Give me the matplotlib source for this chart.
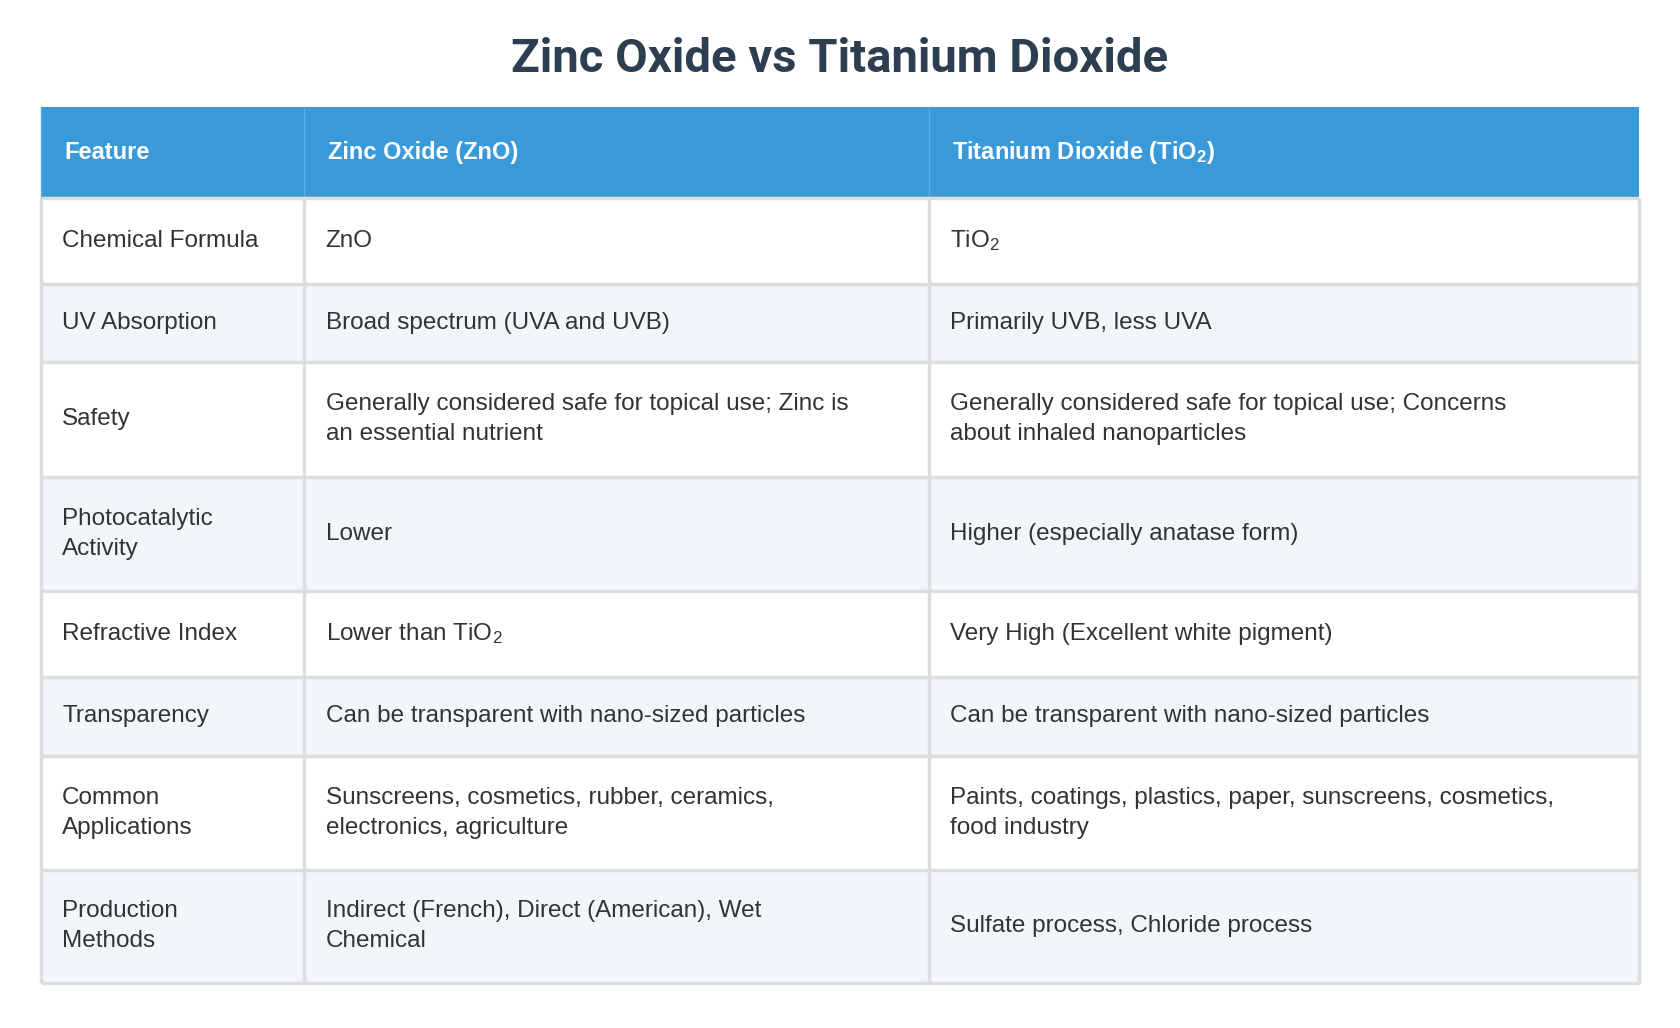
import matplotlib
matplotlib.use('Agg')
import matplotlib.pyplot as plt
from matplotlib.patches import Rectangle

plt.rcParams['font.family'] = ['Liberation Sans', 'DejaVu Sans']
plt.rcParams['mathtext.default'] = 'regular'
plt.rcParams['mathtext.fontset'] = 'custom'
plt.rcParams['mathtext.rm'] = 'Liberation Sans'

title = "Zinc Oxide vs Titanium Dioxide"
headers = ["Feature", "Zinc Oxide (ZnO)", "Titanium Dioxide (TiO$_2$)"]
features = ["Chemical Formula", "UV Absorption", "Safety", "Photocatalytic\nActivity",
            "Refractive Index", "Transparency", "Common\nApplications", "Production\nMethods"]
zno = ["ZnO", "Broad spectrum (UVA and UVB)",
       "Generally considered safe for topical use; Zinc is\nan essential nutrient",
       "Lower", "Lower than TiO$_2$", "Can be transparent with nano-sized particles",
       "Sunscreens, cosmetics, rubber, ceramics,\nelectronics, agriculture",
       "Indirect (French), Direct (American), Wet\nChemical"]
tio2 = ["TiO$_2$", "Primarily UVB, less UVA",
        "Generally considered safe for topical use; Concerns\nabout inhaled nanoparticles",
        "Higher (especially anatase form)", "Very High (Excellent white pigment)",
        "Can be transparent with nano-sized particles",
        "Paints, coatings, plastics, paper, sunscreens, cosmetics,\nfood industry",
        "Sulfate process, Chloride process"]

# layout in reference pixel units (1568 x 960 canvas)
W, H = 1568, 960
col_x = [38, 284, 867, 1530]
row_y = [100, 185, 265, 338, 445, 552, 632, 706, 812, 918]

fig = plt.figure(figsize=(16.8, 10.28), dpi=100)
ax = fig.add_axes([0, 0, 1, 1])
ax.set_xlim(0, W)
ax.set_ylim(H, 0)
ax.axis('off')

ax.text(W / 2, 55, title, ha='center', va='center', fontsize=34,
        fontweight='bold', color='#2c3e50', family=['Roboto', 'DejaVu Sans'])

# header
ax.add_patch(Rectangle((col_x[0], row_y[0]), col_x[-1] - col_x[0], row_y[1] - row_y[0],
                       facecolor='#3a9ad9', edgecolor='none'))
for j, h in enumerate(headers):
    ax.plot([col_x[j], col_x[j]], [row_y[0], row_y[1]], color='#5aaee3', lw=1)
    ax.text(col_x[j] + 22, (row_y[0] + row_y[1]) / 2, h, ha='left', va='center',
            fontsize=17, fontweight='bold', color='white')

# body
for i in range(len(features)):
    y0, y1 = row_y[i + 1], row_y[i + 2]
    bg = 'white' if i % 2 == 0 else '#f2f5fa'
    ax.add_patch(Rectangle((col_x[0], y0), col_x[-1] - col_x[0], y1 - y0,
                           facecolor=bg, edgecolor='none'))
    for j, txt in enumerate([features[i], zno[i], tio2[i]]):
        ax.text(col_x[j] + 20, (y0 + y1) / 2, txt, ha='left', va='center',
                fontsize=17.5, color='#333333', linespacing=1.45)

# grid lines
for y in row_y[1:]:
    ax.plot([col_x[0], col_x[-1]], [y, y], color='#dddddd', lw=2.5, solid_capstyle='butt')
for x in col_x:
    ax.plot([x, x], [row_y[1], row_y[-1]], color='#dddddd', lw=2.5, solid_capstyle='butt')

fig.savefig('out.png', dpi=100)
